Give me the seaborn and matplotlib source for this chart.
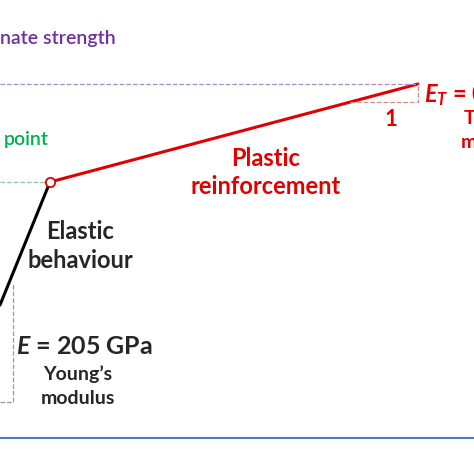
import matplotlib
matplotlib.use("Agg")
import matplotlib.pyplot as plt
import seaborn as sns

sns.set_theme(style="white")
plt.rcParams["font.family"] = ["Lato", "DejaVu Sans"]
plt.rcParams["mathtext.fontset"] = "custom"
plt.rcParams["mathtext.it"] = "Lato:italic:bold"
plt.rcParams["mathtext.rm"] = "Lato:bold"

# Diagram coordinates (image pixel space, y downward)
elastic_x = [0, 50]
elastic_y = [305, 182]
plastic_x = [50, 418]
plastic_y = [182, 84]
yield_pt = (50, 182)
ultimate_y = 84

RED = "#e00000"
PURPLE = "#7030a0"
GREEN = "#00b050"

fig = plt.figure(figsize=(4.74, 4.74), dpi=100)
ax = fig.add_axes([0, 0, 1, 1])
ax.set_xlim(0, 474)
ax.set_ylim(474, 0)
ax.axis("off")

sns.lineplot(x=elastic_x, y=elastic_y, sort=False, color="black", lw=2.2, ax=ax)
sns.lineplot(x=plastic_x, y=plastic_y, sort=False, color=RED, lw=2.2, ax=ax)
sns.scatterplot(x=[yield_pt[0]], y=[yield_pt[1]], s=45, facecolor="white",
                edgecolor=RED, linewidth=1.3, ax=ax, zorder=5)

# guide lines
ax.plot([0, plastic_x[1]], [ultimate_y, ultimate_y], ls="--", color="#a98bc4", lw=0.9)
ax.plot([0, yield_pt[0]], [yield_pt[1], yield_pt[1]], ls="--", color="#8fbfa4", lw=0.9)
ax.plot([350, 418, 418], [102, 102, 84], ls="--", color="#d98c8c", lw=0.9)
ax.plot([0, 13, 13], [402, 402, 283], ls="--", color="#999999", lw=0.9)
ax.plot([0, 474], [438, 438], color="#4a7ebb", lw=1.5)

# labels
ax.text(0, 38, "nate strength", color=PURPLE, fontsize=14, weight="semibold", va="center", ha="left")
ax.text(4, 140, "point", color=GREEN, fontsize=14, weight="semibold", va="center")
ax.text(266, 158, "Plastic", color=RED, fontsize=17, weight="bold", ha="center", va="center")
ax.text(266, 187, "reinforcement", color=RED, fontsize=17, weight="bold", ha="center", va="center")
ax.text(80, 231, "Elastic", fontsize=17, weight="bold", ha="center", va="center")
ax.text(80, 261, "behaviour", fontsize=17, weight="bold", ha="center", va="center")
ax.text(16, 347, r"$E$ = 205 GPa", fontsize=18, weight="bold", ha="left", va="center")
ax.text(78, 374, "Young’s", fontsize=14, weight="bold", ha="center", va="center")
ax.text(78, 399, "modulus", fontsize=14, weight="bold", ha="center", va="center")
ax.text(391, 119, "1", color=RED, fontsize=16, weight="bold", ha="center", va="center")
ax.text(424, 95, r"$E_T$ = 0", color=RED, fontsize=17, weight="bold", ha="left", va="center")
ax.text(464, 118, "T", color=RED, fontsize=14, weight="bold", ha="left", va="center")
ax.text(461, 143, "m", color=RED, fontsize=14, weight="bold", ha="left", va="center")

fig.savefig("out.png", dpi=100)
